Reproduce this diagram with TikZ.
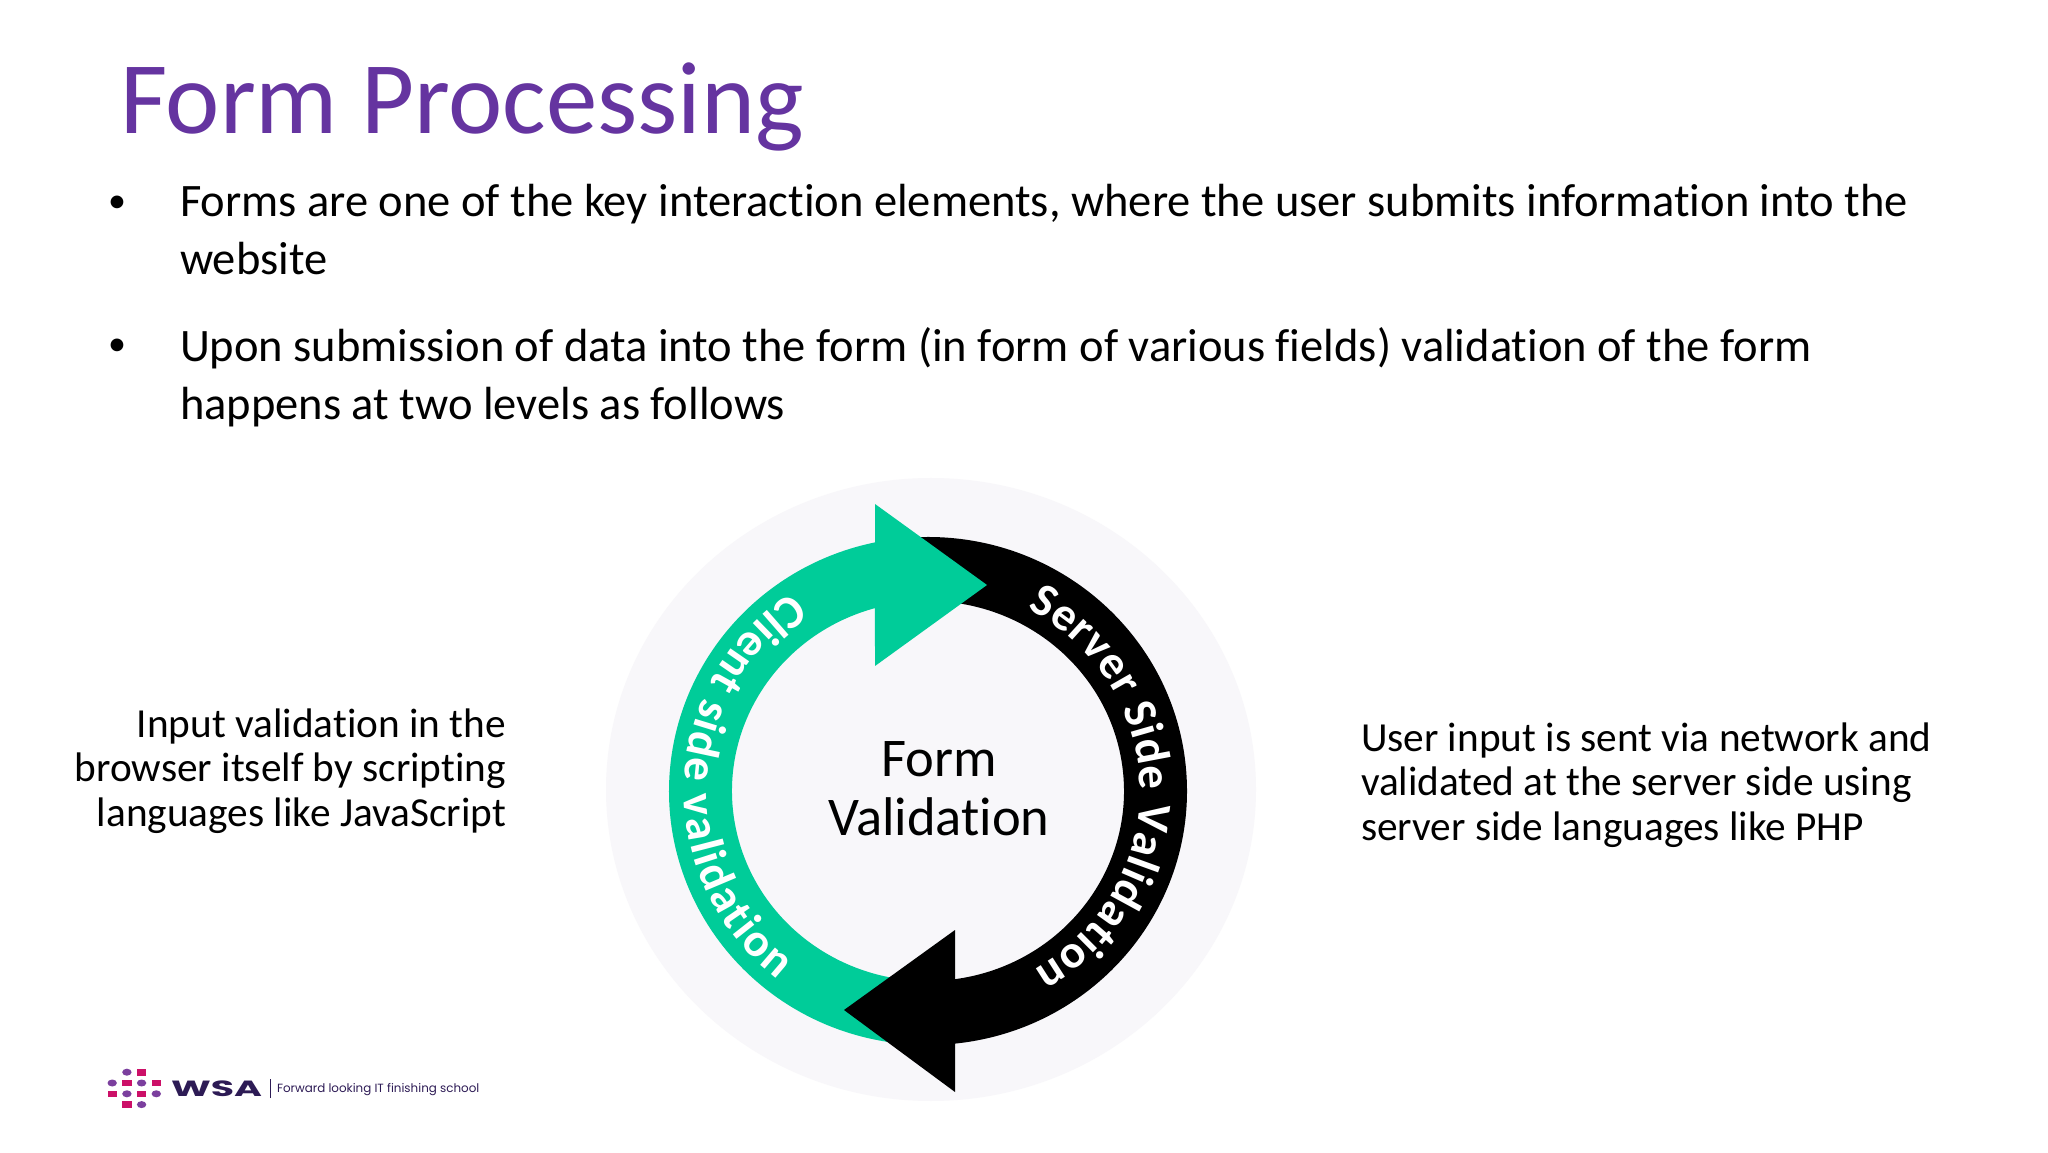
\documentclass[tikz,border=0pt]{standalone}
\usepackage{fontspec}
\setmainfont[Ligatures=NoCommon]{Carlito}
\newfontfamily\logofont{Poppins}
\usetikzlibrary{decorations.text}
\definecolor{titlepurple}{HTML}{6534A0}
\definecolor{ringgreen}{HTML}{00CC99}
\definecolor{discgrey}{HTML}{F8F7FA}
\definecolor{dotpurple}{HTML}{7B3F9E}
\definecolor{dotpink}{HTML}{CC1068}
\definecolor{logoink}{HTML}{2D1B55}
\begin{document}
\begin{tikzpicture}[
  x=1pt,
  y=1pt,
  every node/.style={inner sep=0pt, outer sep=0pt},
  bodytext/.style={anchor=north west, align=left, font=\fontsize{46.5}{58}\selectfont},
  bulletmark/.style={anchor=base, font=\fontsize{36}{36}\selectfont},
  sidetext/.style={align=#1, font=\fontsize{41.3}{44.4}\selectfont},
  ringtext/.style={decorate, decoration={text along path, text align={fit to path}, text={|\fontsize{47}{47}\selectfont\bfseries\color{white}|#1}}},
  logodot/.style={fill=dotpurple},
  logosquare/.style={fill=dotpink}
]
\useasboundingbox (0,0) rectangle (2048,1152);
\fill[white] (0,0) rectangle (2048,1152);

\node[anchor=base west, text=titlepurple, font=\fontsize{102.8}{102.8}\selectfont] (title) at (120,1018) {Form Processing};

\node[bulletmark] (dotA) at (117,939) {•};
\node[bodytext] (pointA) at (180,968)
  {Forms are one of the key interaction elements, where the user submits information into the\\website};
\node[bulletmark] (dotB) at (117,796) {•};
\node[bodytext] (pointB) at (180,825)
  {Upon submission of data into the form (in form of various fields) validation of the form\\happens at two levels as follows};

\fill[discgrey] (931,362.5) ellipse[x radius=325, y radius=311.5];

\begin{scope}[shift={(928,361)}]
  \fill[black] (92:259 and 254) arc[start angle=92, end angle=-84, x radius=259, y radius=254]
    -- (-82.1:196 and 190) arc[start angle=-82.1, end angle=92, x radius=196, y radius=190] -- cycle;
  \fill[ringgreen] (265:259 and 254) arc[start angle=265, end angle=101.8, x radius=259, y radius=254]
    -- (-53,287) -- (59,206) -- (-53,125)
    -- (105.7:196 and 190) arc[start angle=105.7, end angle=265, x radius=196, y radius=190] -- cycle;
  \fill[black] (27,-139) -- (27,-301) -- (-84,-219) -- cycle;
  \path[ringtext={Client side validation}] (124:244 and 239) arc[start angle=124, end angle=232, x radius=244, y radius=239];
  \path[ringtext={Server Side Validation}] (62:212 and 206) arc[start angle=62, end angle=-60, x radius=212, y radius=206];
\end{scope}

\node[align=center, font=\fontsize{54.5}{59}\selectfont] (centre) at (939,363) {Form\\Validation};
\node[sidetext=right, anchor=east] (clientnote) at (506,381)
  {Input validation in the\\browser itself by scripting\\languages like JavaScript};
\node[sidetext=left, anchor=west] (servernote) at (1361,367)
  {User input is sent via network and\\validated at the server side using\\server side languages like PHP};

\foreach \col/\row in {1/0,0/1,2/1,1/2,3/2,2/3}
  \fill[logodot] (112.2+14.7*\col,79.8-10.8*\row) ellipse[x radius=4.7, y radius=3.5];
\foreach \col/\row in {2/0,1/1,3/1,0/2,2/2,1/3}
  \fill[logosquare] (107.5+14.7*\col,76.5-10.8*\row) rectangle ++(9.4,6.6);
\node[anchor=west, text=logoink, xscale=1.72, font=\logofont\fontsize{22}{22}\selectfont\bfseries] (wsa) at (171,63) {WSA};
\coordinate (rulebottom) at (270,54);
\coordinate (ruletop) at (270,73);
\draw[logoink, line width=0.7pt] (rulebottom) -- (ruletop);
\node[anchor=west, text=logoink, font=\logofont\fontsize{11.9}{11.9}\selectfont] (tagline) at (277,62) {Forward looking IT finishing school};
\end{tikzpicture}
\end{document}
